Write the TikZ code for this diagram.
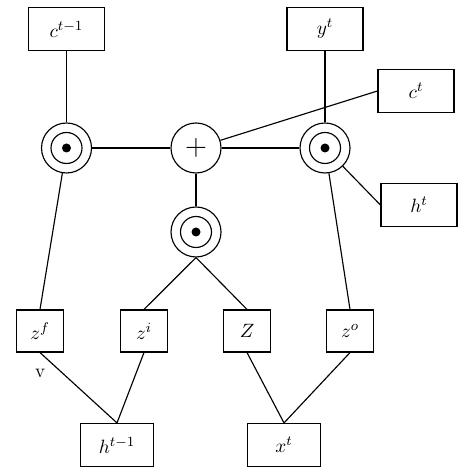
\documentclass[tikz,border=0pt]{standalone}
\usepackage{amsmath, amssymb}
\usepackage{tikz}
\usetikzlibrary{positioning}

\tikzset{
    box/.style={draw, line width=0.65pt, minimum width=1.52cm, minimum height=0.86cm, inner sep=0pt},
    gate/.style={draw, line width=0.65pt, minimum width=0.94cm, minimum height=0.84cm, inner sep=0pt},
    prod/.style={circle, draw, line width=0.65pt, minimum size=1cm, inner sep=0pt,
        path picture={
            \draw[line width=0.65pt] (path picture bounding box.center) circle (0.31cm);
            \fill (path picture bounding box.center) circle (0.09cm);
        }},
    sum/.style={circle, draw, line width=0.65pt, minimum size=1cm, inner sep=0pt}
}

\begin{document}
\begin{tikzpicture}[font=\fontsize{11}{13}\selectfont, line width=0.65pt]
    \useasboundingbox (0,0) rectangle (9.48,9.48);
    \node[box] (cprev) at (1.33,8.90) {$c^{t-1}$};
    \node[box] (y) at (6.50,8.90) {$y^{t}$};
    \node[box] (c) at (8.32,7.66) {$c^{t}$};
    \node[prod] (pf) at (1.33,6.52) {};
    \node[sum] (add) at (3.92,6.52) {\fontsize{19}{19}\selectfont$+$};
    \node[prod] (po) at (6.50,6.52) {};
    \node[box] (h) at (8.38,5.38) {$h^{t}$};
    \node[prod] (pi) at (3.92,4.84) {};
    \node[gate] (zf) at (0.80,2.86) {$z^{f}$};
    \node[gate] (zi) at (2.88,2.86) {$z^{i}$};
    \node[gate] (Z) at (4.94,2.86) {$Z$};
    \node[gate] (zo) at (7.00,2.86) {$z^{o}$};
    \node (v) at (0.80,2.02) {v};
    \node[box, minimum width=1.46cm] (hprev) at (2.34,0.58) {$h^{t-1}$};
    \node[box, minimum width=1.46cm] (x) at (5.68,0.58) {$x^{t}$};
    \draw (cprev) -- (pf);
    \draw (pf) -- (add);
    \draw (add) -- (po);
    \draw (add) -- (c.west);
    \draw (y) -- (po);
    \draw (po) -- (h.west);
    \draw (add) -- (pi);
    \draw (pf) -- (zf.north);
    \draw (po) -- (zo.north);
    \draw (pi.south) -- (zi.north);
    \draw (pi.south) -- (Z.north);
    \draw (zf.south) -- (hprev.north);
    \draw (zi.south) -- (hprev.north);
    \draw (Z.south) -- (x.north);
    \draw (zo.south) -- (x.north);
\end{tikzpicture}
\end{document}
